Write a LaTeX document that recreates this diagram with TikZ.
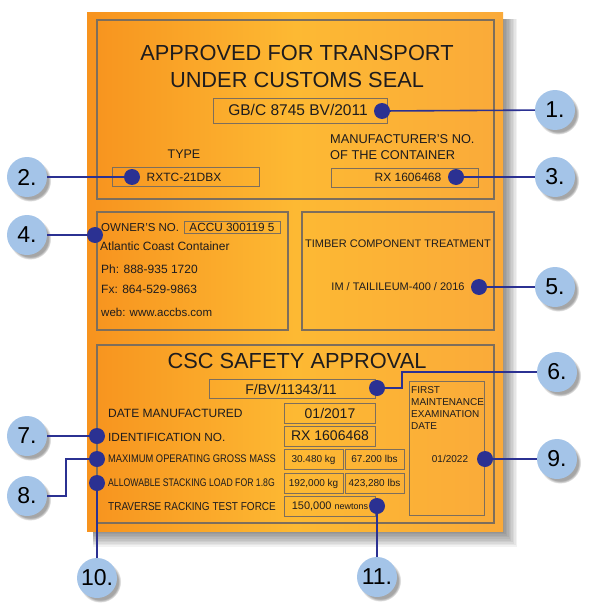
\documentclass[tikz,border=0pt]{standalone}
\usepackage{fontspec}
\setmainfont{Liberation Sans}
\usepackage{graphicx}
\usetikzlibrary{shadows,fadings}
\definecolor{plateL}{RGB}{247,147,30}
\definecolor{plateM}{RGB}{253,185,51}
\definecolor{plateR}{RGB}{250,170,58}
\definecolor{boxc}{RGB}{125,110,92}
\definecolor{navy}{RGB}{43,49,146}
\definecolor{lblue}{RGB}{164,196,232}
\definecolor{ink}{RGB}{30,28,30}
\newcommand\fsz[2]{\fontsize{#1}{#2}\selectfont}
\newcommand\cnd[2]{\scalebox{#1}[1]{#2}}
\begin{document}
\begin{tikzpicture}[x=1pt,y=-1pt,
 txt/.style={inner sep=0pt, text=ink, text depth=0pt},
 boxline/.style={draw=boxc, line width=1.3pt},
 ibox/.style={draw=boxc, line width=1pt},
 dot/.style={circle, fill=navy, minimum size=16pt, inner sep=0pt},
 conn/.style={draw=navy, line width=1.6pt},
 num/.style={circle, fill=lblue, minimum size=40pt, inner sep=0pt, font=\fsz{23}{25}, text=black,
   circular drop shadow={shadow xshift=3pt, shadow yshift=-3.5pt, opacity=0.7, shadow scale=1.05}},
]
\useasboundingbox (0,0) rectangle (589,610);
\fill[white] (0,0) rectangle (589,610);
% plate shadow
\foreach \i in {1,...,10} \fill[black, opacity=0.05] (93,19) rectangle (503+1.4*\i, 531+1.6*\i);
% plate
\shade[left color=plateL, right color=plateR, middle color=plateM] (87,13) rectangle (503,531);
% section frames
\draw[boxline] (97,20) rectangle (494,199);
\draw[boxline] (97,212) rectangle (288,330);
\draw[boxline] (302,212) rectangle (494,330);
\draw[boxline] (97,345) rectangle (494,523);
% inner boxes
\draw[ibox] (213,98) rectangle (387,123);
\draw[ibox] (112,167) rectangle (259,186);
\draw[ibox] (331,168) rectangle (478,187);
\draw[ibox] (184,221) rectangle (280,233);
\draw[ibox] (209,379) rectangle (375,398);
\draw[ibox] (284,403) rectangle (375,423);
\draw[ibox] (284,426) rectangle (375,446);
\draw[ibox] (284,449) rectangle (343,469);
\draw[ibox] (345,449) rectangle (404,469);
\draw[ibox] (284,473) rectangle (343,493);
\draw[ibox] (345,473) rectangle (404,493);
\draw[ibox] (284,496) rectangle (375,516);
\draw[ibox] (409,381) rectangle (484,515);
% texts
\node[txt,font=\fsz{21.8}{24}] (tA) at (297,53) {APPROVED FOR TRANSPORT};
\node[txt,font=\fsz{21.8}{24}] (tB) at (297,80) {UNDER CUSTOMS SEAL};
\node[txt,font=\fsz{15.5}{18}] (tgb) at (298,110) {GB/C 8745 BV/2011};
\node[txt,font=\fsz{12.5}{15}] (ttype) at (184,154) {TYPE};
\node[txt,font=\fsz{12}{14}] (trx) at (184,177) {RXTC-21DBX};
\node[txt,font=\fsz{12.8}{15},anchor=west] (tman1) at (330,139) {MANUFACTURER’S NO.};
\node[txt,font=\fsz{12.8}{15},anchor=west] (tman2) at (330,155) {OF THE CONTAINER};
\node[txt,font=\fsz{12}{14}] (tmrx) at (408,177) {RX 1606468};
\node[txt,font=\fsz{11.5}{14},anchor=west] (town) at (101,227) {OWNER’S NO.};
\node[txt,font=\fsz{11.8}{14}] (taccu) at (232,227) {ACCU 300119 5};
\node[txt,font=\fsz{12}{14},anchor=west] (tatl) at (100,246) {Atlantic Coast Container};
\node[txt,font=\fsz{12}{14},anchor=west] (tph) at (101,269) {Ph: 888-935 1720};
\node[txt,font=\fsz{12}{14},anchor=west] (tfx) at (101,289) {Fx: 864-529-9863};
\node[txt,font=\fsz{11.5}{14},anchor=west] (tweb) at (101,312) {web: www.accbs.com};
\node[txt,font=\fsz{11}{13}] (ttim) at (398,244) {TIMBER COMPONENT TREATMENT};
\node[txt,font=\fsz{11}{13}] (tim) at (398,287) {IM / TAILILEUM-400 / 2016};
\node[txt,font=\fsz{21.8}{24}] (tcsc) at (297,361) {CSC SAFETY APPROVAL};
\node[txt,font=\fsz{14}{16}] (tfbv) at (291,389) {F/BV/11343/11};
\node[txt,font=\fsz{12}{14},anchor=west] (tdate) at (108,413) {DATE MANUFACTURED};
\node[txt,font=\fsz{14}{16}] (tdv) at (330,413) {01/2017};
\node[txt,font=\fsz{11.8}{14},anchor=west] (tid) at (108,437) {IDENTIFICATION NO.};
\node[txt,font=\fsz{14}{16}] (tidv) at (330,436) {RX 1606468};
\node[txt,font=\fsz{11}{13},anchor=west] (tmax) at (108,459) {\cnd{0.85}{MAXIMUM OPERATING GROSS MASS}};
\node[txt,font=\fsz{10}{12}] (tm1) at (313.5,459) {30.480 kg};
\node[txt,font=\fsz{10}{12}] (tm2) at (374.5,459) {67.200 lbs};
\node[txt,font=\fsz{11}{13},anchor=west] (tall) at (108,483) {\cnd{0.79}{ALLOWABLE STACKING LOAD FOR 1.8G}};
\node[txt,font=\fsz{10}{12}] (ta1) at (313.5,483) {192,000 kg};
\node[txt,font=\fsz{10}{12}] (ta2) at (374.5,483) {423,280 lbs};
\node[txt,font=\fsz{11.5}{13},anchor=west] (ttrv) at (108,506) {\cnd{0.87}{TRAVERSE RACKING TEST FORCE}};
\node[txt,font=\fsz{11}{13}] (ttv) at (330,506) {150,000 {\fsz{9}{11}newtons}};
\node[txt,font=\fsz{10}{12},anchor=north west,align=left] (tfirst) at (411,386.5) {FIRST\\MAINTENANCE\\EXAMINATION\\DATE};
\node[txt,font=\fsz{10}{12}] (tfv) at (450,459) {01/2022};
% dots
\node[dot] (d1) at (382,111) {};
\node[dot] (d2) at (132,177) {};
\node[dot] (d3) at (456,177) {};
\node[dot] (d4) at (95,235) {};
\node[dot] (d5) at (479,287) {};
\node[dot] (d6) at (377,388) {};
\node[dot] (d7) at (97,436) {};
\node[dot] (d8) at (97,459) {};
\node[dot] (d9) at (485,459) {};
\node[dot] (d10) at (97,483) {};
\node[dot] (d11) at (377,506) {};
% number circles
\node[num] (c1) at (555,110) {1.};
\node[num] (c2) at (27,177) {2.};
\node[num] (c3) at (555,177) {3.};
\node[num] (c4) at (27,235) {4.};
\node[num] (c5) at (555,287) {5.};
\node[num] (c6) at (557,372) {6.};
\node[num] (c7) at (27,436) {7.};
\node[num] (c8) at (27,496) {8.};
\node[num] (c9) at (557,459) {9.};
\node[num] (c10) at (97,578) {10.};
\node[num] (c11) at (377,577) {11.};
% connectors
\coordinate (k6) at (402,372);
\coordinate (k8) at (66,496);
\draw[conn] (d1) -- (c1);
\draw[conn] (d2) -- (c2);
\draw[conn] (d3) -- (c3);
\draw[conn] (d4) -- (c4);
\draw[conn] (d5) -- (c5);
\draw[conn] (d6) -| (k6) -- (c6);
\draw[conn] (d7) -- (c7);
\draw[conn] (d8) -| (k8) -- (c8);
\draw[conn] (d9) -- (c9);
\draw[conn] (d10) -- (c10);
\draw[conn] (d11) -- (c11);
\end{tikzpicture}
\end{document}
